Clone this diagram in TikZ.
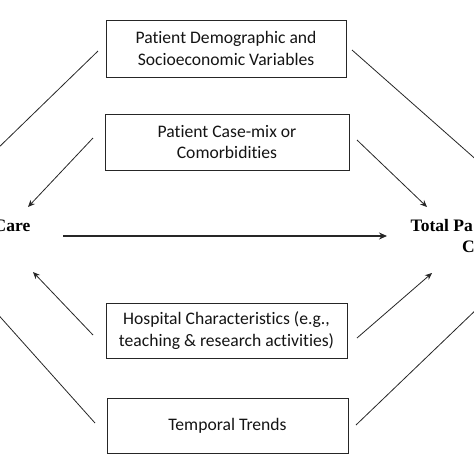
\documentclass[tikz,border=0pt]{standalone}
\usepackage{fontspec}
\setmainfont[Ligatures=NoCommon]{Carlito}
\newfontfamily\timesfont{Liberation Serif}
\usetikzlibrary{arrows.meta}
\begin{document}
\begin{tikzpicture}[x=1pt,y=-1pt,
  box/.style={draw=black!85, line width=1pt, align=center, inner sep=0pt, font=\fontsize{17.6}{21.5}\selectfont, text=black!92},
  link/.style={draw=black!85, line width=0.8pt},
  arr/.style={link, -{Stealth[length=7pt,width=6pt]}},
  lbl/.style={font=\timesfont\bfseries\fontsize{17.5}{22}\selectfont, text=black}]
\useasboundingbox (0,0) rectangle (474,474);
\clip (0,0) rectangle (474,474);
\node[box, minimum width=240pt, minimum height=57pt] (demo) at (226,48.5) {Patient Demographic and\\Socioeconomic Variables};
\node[box, minimum width=244pt, minimum height=56pt] (casemix) at (227,142) {Patient Case-mix or\\Comorbidities};
\node[box, minimum width=241pt, minimum height=55pt] (hosp) at (226.5,330.5) {Hospital Characteristics (e.g.,\\teaching \& research activities)};
\node[box, minimum width=241pt, minimum height=55pt] (temp) at (227.5,425.5) {Temporal Trends};
\node[lbl, anchor=base east, inner sep=0pt] (care) at (30.5,231) {Care};
\node[lbl, anchor=base west, inner sep=0pt] (total) at (410.5,231) {Total Pa};
\node[lbl, anchor=base west, inner sep=0pt] (totalc) at (462,252) {C};
% coordinates
\coordinate (d1) at (98,51);   \coordinate (d1e) at (-6,152);
\coordinate (d2) at (352,50);  \coordinate (d2e) at (480,163);
\coordinate (c1) at (93,138);  \coordinate (c1e) at (28,207);
\coordinate (c2) at (357,140); \coordinate (c2e) at (427,207);
\coordinate (h1) at (93,335);  \coordinate (h1e) at (33,272);
\coordinate (h2) at (357,338); \coordinate (h2e) at (432,273);
\coordinate (t1) at (95,423);  \coordinate (t1e) at (-6,310);
\coordinate (t2) at (356,425); \coordinate (t2e) at (480,306);
\coordinate (ha) at (63,236);  \coordinate (hb) at (387,236);
\draw[link] (d1) -- (d1e);
\draw[link] (d2) -- (d2e);
\draw[arr] (c1) -- (c1e);
\draw[arr] (c2) -- (c2e);
\draw[arr] (h1) -- (h1e);
\draw[arr] (h2) -- (h2e);
\draw[link] (t1) -- (t1e);
\draw[link] (t2) -- (t2e);
\draw[link, line width=1.6pt, -{Stealth[length=8pt,width=7pt]}] (ha) -- (hb);
\end{tikzpicture}
\end{document}
